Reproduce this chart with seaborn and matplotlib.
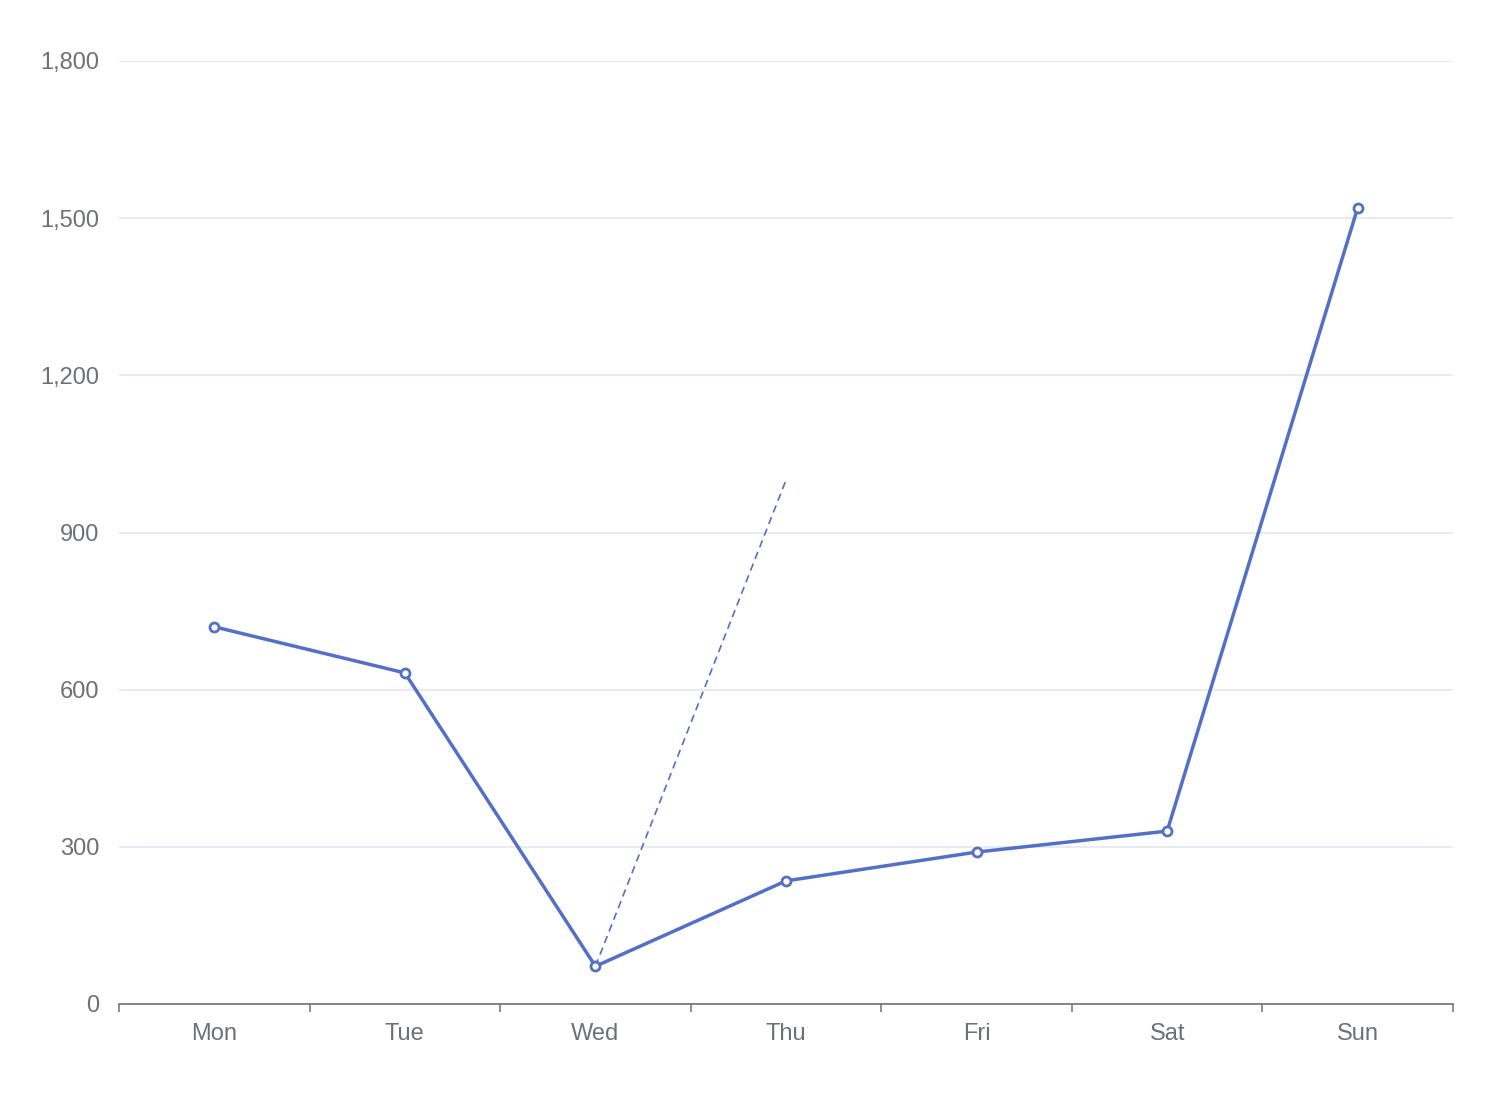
import pandas as pd
import matplotlib.pyplot as plt
import seaborn as sns
import numpy as np
from matplotlib.ticker import FuncFormatter, FixedLocator

# --- dane ---
days = ['Mon', 'Tue', 'Wed', 'Thu', 'Fri', 'Sat', 'Sun']
values = [720, 632, 72, 235, 290, 330, 1520]
# linia przerywana: od Wed do Thu
dash_days = ['Wed', 'Thu']
dash_values = [72, 1000]

BLUE = '#5470c6'
GRID = '#e0e6f1'
AXIS = '#6e7079'

sns.set_theme(style="white")
plt.rcParams['font.family'] = ['Liberation Sans', 'DejaVu Sans']

df = pd.DataFrame({'day': days, 'value': values})
df['x'] = np.arange(len(days))
df_dash = pd.DataFrame({'x': [days.index(d) for d in dash_days], 'value': dash_values})

fig = plt.figure(figsize=(15.08, 11.06), dpi=100)
ax = fig.add_axes([119 / 1508, 1 - 1004 / 1106, (1453 - 119) / 1508, (1004 - 61) / 1106])

sns.lineplot(data=df_dash, x='x', y='value', ax=ax, color=BLUE, linewidth=1.2,
             linestyle=(0, (4.5, 3)), zorder=2)
sns.lineplot(data=df, x='x', y='value', ax=ax, color=BLUE, linewidth=2.5,
             marker='o', markersize=6.5, markerfacecolor='white',
             markeredgecolor=BLUE, markeredgewidth=2.0, zorder=3)

ax.set_xlim(-0.5, len(days) - 0.5)
ax.set_ylim(0, 1800)
ax.set_yticks(np.arange(0, 1801, 300))
ax.yaxis.set_major_formatter(FuncFormatter(lambda v, p: f'{int(v):,}'))
ax.set_xticks(np.arange(len(days)))
ax.set_xticklabels(days)
ax.xaxis.set_minor_locator(FixedLocator(np.arange(-0.5, len(days), 1.0)))

ax.grid(axis='y', color=GRID, linewidth=1.1)
ax.set_axisbelow(True)
for s in ['top', 'right', 'left']:
    ax.spines[s].set_visible(False)
ax.spines['bottom'].set_color(AXIS)
ax.spines['bottom'].set_linewidth(1.2)

ax.tick_params(axis='x', which='major', length=0, pad=14, labelsize=17, labelcolor=AXIS)
ax.tick_params(axis='x', which='minor', length=6, width=1.1, color=AXIS, bottom=True)
ax.tick_params(axis='y', length=0, pad=14, labelsize=17, labelcolor=AXIS)
ax.set_xlabel('')
ax.set_ylabel('')

plt.savefig('out.png', dpi=100)
plt.close()
